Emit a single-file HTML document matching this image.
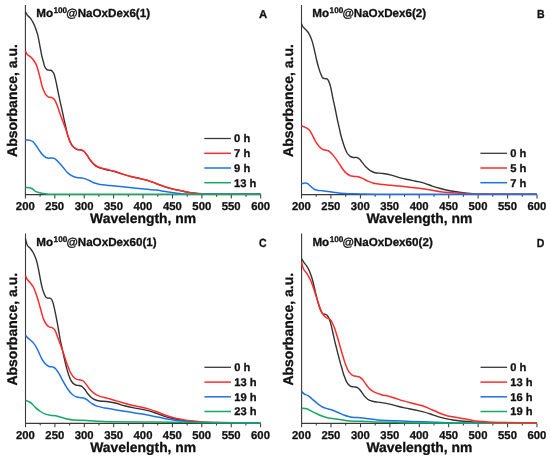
<!DOCTYPE html>
<html lang="en"><head><meta charset="utf-8"><title>UV-vis absorbance spectra</title>
<style>html,body{margin:0;padding:0;background:#fff}body{width:550px;height:460px;overflow:hidden}svg{display:block}</style>
</head><body>
<svg width="550" height="460" viewBox="0 0 550 460">
<rect width="550" height="460" fill="#fff"/>
<g font-family="'Liberation Sans', Arial, sans-serif" font-weight="bold" fill="#111" text-rendering="geometricPrecision" stroke="#111" stroke-width="0.3" stroke-linejoin="round">
<path d="M25.4 5.0V194.6H260.7" fill="none" stroke="#3a3a3a" stroke-width="1.1"/>
<path d="M25.4 194.6v3.9M40.1 194.6v2.2M54.8 194.6v3.9M69.5 194.6v2.2M84.2 194.6v3.9M98.9 194.6v2.2M113.6 194.6v3.9M128.3 194.6v2.2M143.0 194.6v3.9M157.8 194.6v2.2M172.5 194.6v3.9M187.2 194.6v2.2M201.9 194.6v3.9M216.6 194.6v2.2M231.3 194.6v3.9M246.0 194.6v2.2M260.7 194.6v3.9" fill="none" stroke="#3a3a3a" stroke-width="1.05"/>
<path d="M25.4 11.8C25.7 12.4 26.4 14.0 27.3 15.2C28.2 16.4 29.7 17.1 30.9 18.8C32.1 20.5 33.4 22.8 34.5 25.4C35.6 27.9 36.6 31.0 37.5 34.1C38.4 37.2 38.9 40.7 39.6 44.3C40.3 47.9 41.2 53.0 41.8 55.9C42.4 58.8 42.8 59.7 43.3 61.5C43.8 63.3 44.1 65.2 44.7 66.5C45.3 67.8 46.0 69.0 46.9 69.6C47.8 70.2 48.9 70.0 49.8 70.2C50.6 70.4 51.3 70.2 52.0 70.9C52.7 71.6 53.5 72.4 54.2 74.5C54.9 76.6 55.5 79.4 56.4 83.3C57.2 87.2 58.3 93.2 59.3 97.8C60.3 102.4 61.2 106.5 62.2 110.9C63.2 115.4 64.2 120.3 65.2 124.5C66.2 128.7 67.0 133.1 68.0 136.3C69.0 139.5 69.9 141.7 70.9 143.6C71.9 145.5 72.7 146.6 73.8 147.6C74.9 148.6 76.3 149.3 77.5 149.7C78.7 150.1 80.0 149.7 81.1 150.0C82.2 150.3 83.0 150.7 84.0 151.5C85.0 152.3 85.9 153.8 86.9 155.1C87.9 156.4 88.6 158.0 89.8 159.6C91.0 161.2 92.7 163.5 94.2 164.8C95.7 166.2 97.0 166.9 99.0 167.7C101.0 168.5 103.8 169.1 106.4 169.7C109.0 170.3 111.8 170.8 114.5 171.5C117.2 172.2 120.0 173.3 122.7 174.2C125.4 175.0 128.2 175.9 130.9 176.6C133.6 177.3 136.4 177.8 139.1 178.4C141.8 179.0 144.6 179.6 147.3 180.4C150.0 181.2 152.8 182.3 155.5 183.3C158.2 184.3 160.9 185.5 163.6 186.4C166.3 187.3 169.1 188.2 171.8 188.9C174.5 189.6 177.1 190.0 180.0 190.6C182.9 191.2 186.0 192.0 189.1 192.5C192.2 193.0 195.4 193.3 198.6 193.6C201.8 193.9 205.0 194.0 208.2 194.1C211.4 194.2 208.9 194.3 217.7 194.3C226.4 194.3 253.5 194.3 260.7 194.3" fill="none" stroke="#333333" stroke-width="1.4" stroke-linejoin="round" stroke-linecap="butt"/>
<path d="M25.4 50.8C25.7 51.4 26.4 53.5 27.3 54.5C28.2 55.5 29.8 56.1 30.9 57.1C32.0 58.1 32.8 59.0 33.8 60.5C34.8 62.0 35.7 63.2 36.7 65.8C37.7 68.4 38.6 72.4 39.6 76.0C40.6 79.6 41.5 84.6 42.5 87.6C43.5 90.6 44.5 92.6 45.5 94.2C46.5 95.8 47.4 96.5 48.4 97.1C49.4 97.6 50.3 97.1 51.3 97.5C52.3 97.9 53.2 98.0 54.2 99.3C55.2 100.6 56.1 102.7 57.1 105.1C58.1 107.5 59.0 111.1 60.0 113.8C61.0 116.5 62.0 119.2 62.9 121.5C63.8 123.8 64.2 124.9 65.1 127.3C65.9 129.7 67.0 133.3 68.0 136.0C69.0 138.7 69.9 141.4 70.9 143.3C71.9 145.2 72.7 146.3 73.8 147.3C74.9 148.3 76.3 149.0 77.5 149.4C78.7 149.8 80.0 149.5 81.1 149.8C82.2 150.1 83.0 150.5 84.0 151.3C85.0 152.2 85.9 153.6 86.9 154.9C87.9 156.2 88.6 157.6 89.8 159.2C91.0 160.8 92.7 163.1 94.2 164.4C95.7 165.7 97.0 166.4 99.0 167.2C101.0 168.0 103.8 168.6 106.4 169.3C109.0 170.0 111.8 170.5 114.5 171.3C117.2 172.1 120.0 173.2 122.7 174.1C125.4 175.0 128.2 175.8 130.9 176.5C133.6 177.2 136.4 177.7 139.1 178.3C141.8 178.9 144.6 179.5 147.3 180.3C150.0 181.1 152.8 182.2 155.5 183.2C158.2 184.2 160.9 185.4 163.6 186.3C166.3 187.2 169.1 188.1 171.8 188.8C174.5 189.5 177.1 189.9 180.0 190.5C182.9 191.1 186.0 192.0 189.1 192.5C192.2 193.0 195.4 193.3 198.6 193.6C201.8 193.9 205.0 194.0 208.2 194.1C211.4 194.2 208.9 194.3 217.7 194.3C226.4 194.3 253.5 194.3 260.7 194.3" fill="none" stroke="#ff2a2a" stroke-width="1.5" stroke-linejoin="round" stroke-linecap="butt"/>
<path d="M25.4 139.6C26.2 139.7 28.9 140.0 30.2 140.4C31.5 140.8 32.1 141.0 33.1 141.8C34.1 142.7 34.8 143.8 36.0 145.5C37.2 147.2 39.1 150.2 40.4 152.0C41.7 153.8 42.8 155.1 44.0 156.1C45.2 157.1 46.1 157.8 47.6 158.1C49.1 158.4 51.4 157.9 52.7 158.1C54.0 158.3 54.5 158.5 55.6 159.3C56.7 160.1 58.0 161.5 59.3 162.9C60.6 164.3 62.1 166.3 63.6 168.0C65.0 169.7 66.5 171.8 68.0 173.1C69.5 174.4 71.0 175.3 72.4 176.0C73.9 176.7 75.1 177.2 76.7 177.5C78.3 177.8 80.3 177.7 81.8 177.9C83.3 178.1 84.2 178.4 85.5 178.9C86.8 179.4 88.3 180.1 89.8 180.8C91.3 181.5 92.8 182.4 94.5 183.0C96.2 183.6 97.3 184.0 99.8 184.4C102.3 184.8 105.8 185.1 109.6 185.5C113.4 185.9 117.8 186.3 122.7 186.8C127.6 187.3 133.6 187.9 139.1 188.5C144.6 189.1 151.4 189.7 155.5 190.1C159.6 190.5 160.9 190.8 163.6 191.2C166.3 191.6 169.2 192.1 171.8 192.5C174.5 192.9 176.6 193.3 179.5 193.6C182.4 193.9 179.5 194.1 189.0 194.2C202.5 194.3 248.8 194.3 260.7 194.3" fill="none" stroke="#1f72e6" stroke-width="1.5" stroke-linejoin="round" stroke-linecap="butt"/>
<path d="M25.5 187.5C26.2 187.6 28.3 187.6 29.5 187.8C30.7 188.1 31.5 188.4 32.5 189.0C33.5 189.6 34.2 190.7 35.4 191.3C36.6 191.9 38.0 192.4 39.7 192.8C41.4 193.2 43.3 193.6 45.5 193.8C47.7 194.0 45.5 194.1 52.8 194.2C88.7 194.3 226.1 194.3 260.7 194.3" fill="none" stroke="#14a862" stroke-width="1.5" stroke-linejoin="round" stroke-linecap="butt"/>
<text x="25.3" y="209.8" font-size="11.3" text-anchor="middle">200</text>
<text x="54.7" y="209.8" font-size="11.3" text-anchor="middle">250</text>
<text x="84.1" y="209.8" font-size="11.3" text-anchor="middle">300</text>
<text x="113.5" y="209.8" font-size="11.3" text-anchor="middle">350</text>
<text x="142.9" y="209.8" font-size="11.3" text-anchor="middle">400</text>
<text x="172.4" y="209.8" font-size="11.3" text-anchor="middle">450</text>
<text x="201.8" y="209.8" font-size="11.3" text-anchor="middle">500</text>
<text x="231.2" y="209.8" font-size="11.3" text-anchor="middle">550</text>
<text x="260.6" y="209.8" font-size="11.3" text-anchor="middle">600</text>
<text x="143.1" y="223.0" font-size="13.9" text-anchor="middle">Wavelength, nm</text>
<text transform="translate(16.5 100.5) rotate(-90)" font-size="14.0" text-anchor="middle">Absorbance, a.u.</text>
<text x="36.2" y="17.1" font-size="11.65">Mo<tspan font-size="8.2" dx="0.5" dy="-4">100</tspan><tspan dx="-0.9" dy="4">@NaOxDex6(1)</tspan></text>
<text x="259.0" y="17.7" font-size="11.3">A</text>
<path d="M204.3 138.5H230.9" stroke="#3a3a3a" stroke-width="1.3"/>
<text x="234.1" y="142.4" font-size="11.15">0 h</text>
<path d="M204.3 153.3H230.9" stroke="#ff2d2d" stroke-width="1.5"/>
<text x="234.1" y="157.2" font-size="11.15">7 h</text>
<path d="M204.3 168.0H230.9" stroke="#1f72e6" stroke-width="1.5"/>
<text x="234.1" y="171.9" font-size="11.15">9 h</text>
<path d="M204.3 182.7H230.9" stroke="#14a862" stroke-width="1.5"/>
<text x="234.1" y="186.6" font-size="11.15">13 h</text>
<path d="M301.5 5.0V194.6H537.0" fill="none" stroke="#3a3a3a" stroke-width="1.1"/>
<path d="M301.5 194.6v3.9M316.2 194.6v2.2M330.9 194.6v3.9M345.7 194.6v2.2M360.4 194.6v3.9M375.1 194.6v2.2M389.8 194.6v3.9M404.5 194.6v2.2M419.2 194.6v3.9M434.0 194.6v2.2M448.7 194.6v3.9M463.4 194.6v2.2M478.1 194.6v3.9M492.8 194.6v2.2M507.6 194.6v3.9M522.3 194.6v2.2M537.0 194.6v3.9" fill="none" stroke="#3a3a3a" stroke-width="1.05"/>
<path d="M301.5 23.9C301.8 24.4 302.3 25.8 303.0 26.8C303.7 27.8 304.9 28.6 305.9 29.7C306.9 30.8 307.8 31.4 308.8 33.4C309.9 35.4 311.3 38.6 312.2 41.4C313.1 44.2 313.7 47.0 314.4 50.1C315.1 53.2 315.9 57.0 316.6 60.0C317.3 63.0 318.0 65.5 318.7 67.8C319.4 70.1 320.0 72.1 320.7 73.8C321.4 75.5 321.9 76.9 322.6 77.7C323.3 78.5 324.1 78.4 324.8 78.6C325.5 78.8 326.4 78.5 327.0 78.9C327.6 79.3 328.1 79.8 328.7 81.1C329.3 82.4 329.9 84.1 330.6 86.9C331.3 89.7 332.1 94.3 332.8 97.8C333.5 101.3 334.3 104.5 335.0 108.0C335.7 111.5 336.5 115.3 337.2 118.8C337.9 122.2 338.7 125.6 339.4 128.7C340.1 131.8 340.6 134.5 341.5 137.5C342.4 140.5 343.5 144.2 344.5 146.9C345.5 149.6 346.4 151.9 347.4 153.5C348.4 155.1 349.3 155.7 350.3 156.4C351.3 157.1 352.1 157.3 353.2 157.5C354.3 157.7 355.7 157.2 356.8 157.5C357.9 157.8 358.7 158.4 359.7 159.3C360.7 160.2 361.5 161.6 362.6 162.9C363.7 164.2 365.0 166.0 366.3 167.3C367.6 168.6 369.2 170.0 370.6 170.9C372.1 171.8 372.9 172.3 375.0 172.7C377.1 173.1 380.5 173.1 383.2 173.5C385.9 173.9 388.7 174.4 391.4 175.1C394.1 175.8 396.8 176.9 399.5 177.6C402.2 178.3 405.0 178.9 407.7 179.5C410.4 180.1 413.2 180.6 415.9 181.2C418.6 181.8 421.4 182.3 424.1 183.1C426.8 183.9 429.6 185.2 432.3 186.1C435.0 187.0 437.8 187.8 440.5 188.5C443.2 189.2 445.9 189.9 448.6 190.5C451.3 191.1 454.1 191.4 456.8 191.8C459.5 192.2 462.4 192.7 465.0 193.0C467.6 193.3 469.6 193.6 472.3 193.8C475.0 194.0 472.3 194.1 481.0 194.2C491.8 194.3 527.7 194.3 537.0 194.3" fill="none" stroke="#333333" stroke-width="1.4" stroke-linejoin="round" stroke-linecap="butt"/>
<path d="M301.5 126.1C302.1 126.3 304.0 126.7 305.2 127.3C306.4 127.9 307.7 128.4 308.8 129.5C309.9 130.6 310.6 131.9 311.7 133.8C312.8 135.7 314.2 139.0 315.4 141.1C316.6 143.2 317.8 144.8 319.0 146.2C320.2 147.6 321.4 148.7 322.6 149.4C323.8 150.1 325.2 150.0 326.3 150.3C327.4 150.6 328.1 150.5 329.2 151.3C330.3 152.1 331.5 153.3 332.8 154.9C334.1 156.5 335.8 158.6 337.2 160.7C338.6 162.8 340.1 165.3 341.5 167.3C342.9 169.3 344.4 171.5 345.9 172.9C347.4 174.3 348.9 175.2 350.3 175.8C351.8 176.4 353.2 176.2 354.6 176.4C356.1 176.6 357.5 176.6 359.0 177.0C360.5 177.4 361.9 178.2 363.4 178.9C364.8 179.6 366.3 180.5 367.7 181.1C369.1 181.7 370.7 182.2 371.9 182.6C373.1 183.0 373.1 183.3 375.0 183.6C376.9 183.9 380.5 184.2 383.2 184.5C385.9 184.8 388.7 185.0 391.4 185.3C394.1 185.6 396.8 185.8 399.5 186.1C402.2 186.4 405.0 186.8 407.7 187.1C410.4 187.4 413.2 187.6 415.9 187.9C418.6 188.2 421.4 188.5 424.1 188.9C426.8 189.3 429.6 189.7 432.3 190.2C435.0 190.7 437.8 191.3 440.5 191.7C443.2 192.1 445.9 192.4 448.6 192.6C451.3 192.8 454.1 192.9 456.8 193.1C459.5 193.3 461.0 193.4 465.0 193.6C469.0 193.8 469.0 194.0 481.0 194.1C493.0 194.2 527.7 194.3 537.0 194.3" fill="none" stroke="#ff2a2a" stroke-width="1.5" stroke-linejoin="round" stroke-linecap="butt"/>
<path d="M301.5 183.7C302.1 183.6 303.8 182.9 304.8 182.9C305.8 182.9 306.4 182.9 307.3 183.4C308.2 183.9 309.4 185.3 310.5 186.2C311.6 187.1 312.7 188.3 313.8 189.0C314.9 189.7 315.6 190.0 317.1 190.3C318.6 190.6 321.0 190.6 322.8 190.8C324.6 191.0 325.8 191.1 327.7 191.4C329.6 191.7 332.1 192.1 334.3 192.4C336.5 192.7 338.4 193.0 340.8 193.2C343.2 193.4 345.7 193.6 349.0 193.7C352.3 193.8 354.5 193.8 360.5 193.9C366.5 194.0 360.5 194.1 385.0 194.2C414.4 194.3 511.7 194.3 537.0 194.3" fill="none" stroke="#1f72e6" stroke-width="1.5" stroke-linejoin="round" stroke-linecap="butt"/>
<text x="301.4" y="209.8" font-size="11.3" text-anchor="middle">200</text>
<text x="330.8" y="209.8" font-size="11.3" text-anchor="middle">250</text>
<text x="360.3" y="209.8" font-size="11.3" text-anchor="middle">300</text>
<text x="389.7" y="209.8" font-size="11.3" text-anchor="middle">350</text>
<text x="419.1" y="209.8" font-size="11.3" text-anchor="middle">400</text>
<text x="448.6" y="209.8" font-size="11.3" text-anchor="middle">450</text>
<text x="478.0" y="209.8" font-size="11.3" text-anchor="middle">500</text>
<text x="507.5" y="209.8" font-size="11.3" text-anchor="middle">550</text>
<text x="536.9" y="209.8" font-size="11.3" text-anchor="middle">600</text>
<text x="419.4" y="223.0" font-size="13.9" text-anchor="middle">Wavelength, nm</text>
<text transform="translate(292.6 100.5) rotate(-90)" font-size="14.0" text-anchor="middle">Absorbance, a.u.</text>
<text x="312.3" y="17.1" font-size="11.65">Mo<tspan font-size="8.2" dx="0.5" dy="-4">100</tspan><tspan dx="-0.9" dy="4">@NaOxDex6(2)</tspan></text>
<text x="536.9" y="17.9" font-size="11.8" textLength="7.6" lengthAdjust="spacingAndGlyphs">B</text>
<path d="M480.4 153.3H507.0" stroke="#3a3a3a" stroke-width="1.3"/>
<text x="510.2" y="157.2" font-size="11.15">0 h</text>
<path d="M480.4 168.0H507.0" stroke="#ff2d2d" stroke-width="1.5"/>
<text x="510.2" y="171.9" font-size="11.15">5 h</text>
<path d="M480.4 182.7H507.0" stroke="#1f72e6" stroke-width="1.5"/>
<text x="510.2" y="186.6" font-size="11.15">7 h</text>
<path d="M25.5 233.6V423.4H260.6" fill="none" stroke="#3a3a3a" stroke-width="1.1"/>
<path d="M25.5 423.4v3.9M40.2 423.4v2.2M54.9 423.4v3.9M69.6 423.4v2.2M84.3 423.4v3.9M99.0 423.4v2.2M113.7 423.4v3.9M128.4 423.4v2.2M143.1 423.4v3.9M157.7 423.4v2.2M172.4 423.4v3.9M187.1 423.4v2.2M201.8 423.4v3.9M216.5 423.4v2.2M231.2 423.4v3.9M245.9 423.4v2.2M260.6 423.4v3.9" fill="none" stroke="#3a3a3a" stroke-width="1.05"/>
<path d="M25.5 238.7C25.8 239.8 26.5 243.7 27.3 245.3C28.1 246.9 29.2 247.0 30.2 248.2C31.2 249.4 32.1 250.7 33.1 252.5C34.1 254.3 35.1 256.6 36.0 259.1C36.9 261.7 37.5 264.4 38.2 267.8C38.9 271.2 39.8 276.3 40.4 279.5C41.0 282.7 41.5 285.0 42.0 287.0C42.5 289.0 42.7 289.9 43.3 291.5C43.9 293.1 44.8 295.5 45.5 296.6C46.2 297.7 46.9 297.9 47.6 298.1C48.3 298.4 49.1 297.9 49.8 298.1C50.5 298.3 51.1 298.4 51.7 299.5C52.3 300.6 52.9 302.2 53.5 304.6C54.1 307.0 54.9 310.6 55.6 314.1C56.3 317.6 57.1 321.6 57.8 325.7C58.5 329.8 59.3 334.6 60.0 338.5C60.7 342.4 61.5 345.4 62.2 348.8C62.9 352.2 63.7 355.8 64.4 358.9C65.1 362.0 65.8 364.9 66.5 367.6C67.2 370.3 67.9 372.6 68.7 374.9C69.5 377.2 70.5 379.9 71.6 381.5C72.7 383.1 74.1 384.1 75.3 384.8C76.5 385.5 77.8 385.2 78.9 385.5C80.0 385.8 80.8 385.7 81.8 386.3C82.8 386.9 83.7 388.1 84.7 389.3C85.7 390.5 86.5 392.1 87.6 393.5C88.7 394.9 90.0 396.4 91.3 397.5C92.6 398.6 94.1 399.4 95.6 400.0C97.0 400.6 97.9 400.7 100.0 401.0C102.1 401.3 105.5 401.3 108.2 401.7C110.9 402.1 113.7 402.6 116.4 403.3C119.1 404.0 121.8 405.1 124.5 405.8C127.2 406.5 130.0 407.1 132.7 407.6C135.4 408.2 138.2 408.6 140.9 409.1C143.6 409.7 146.4 410.1 149.1 410.9C151.8 411.6 154.6 412.7 157.3 413.6C160.0 414.6 162.8 415.8 165.5 416.6C168.2 417.5 170.9 418.1 173.6 418.7C176.3 419.3 179.1 419.8 181.8 420.2C184.5 420.6 187.0 421.0 190.0 421.3C193.0 421.6 195.8 421.9 200.0 422.2C204.2 422.4 204.9 422.7 215.0 422.8C225.1 422.9 252.9 423.0 260.5 423.0" fill="none" stroke="#333333" stroke-width="1.4" stroke-linejoin="round" stroke-linecap="butt"/>
<path d="M25.5 275.4C25.8 276.1 26.5 278.3 27.3 279.5C28.1 280.7 29.2 281.5 30.2 282.7C31.2 283.9 32.2 285.2 33.1 286.7C34.0 288.2 34.6 289.9 35.3 291.8C36.0 293.7 36.6 295.4 37.5 298.1C38.4 300.9 39.4 304.9 40.4 308.3C41.4 311.7 42.3 315.8 43.3 318.5C44.3 321.2 45.2 322.9 46.2 324.3C47.2 325.7 48.1 326.3 49.1 326.9C50.1 327.4 51.0 327.1 52.0 327.6C53.0 328.1 53.9 328.5 54.9 330.1C55.9 331.7 56.8 334.8 57.8 337.4C58.8 340.0 59.9 343.1 60.7 345.5C61.6 347.9 62.3 349.8 62.9 351.5C63.5 353.2 63.7 353.8 64.4 356.0C65.1 358.2 66.3 362.0 67.3 364.7C68.3 367.4 69.2 370.1 70.2 372.0C71.2 373.9 72.0 375.2 73.1 376.4C74.2 377.6 75.5 378.7 76.7 379.3C77.9 379.9 79.3 379.7 80.4 380.0C81.5 380.3 82.3 380.3 83.3 381.0C84.3 381.7 85.1 383.0 86.2 384.4C87.3 385.8 88.5 387.8 89.8 389.3C91.1 390.8 92.5 392.1 94.2 393.3C95.9 394.5 97.7 395.5 100.0 396.4C102.3 397.2 105.5 397.6 108.2 398.4C110.9 399.1 113.7 400.1 116.4 400.9C119.1 401.7 121.8 402.5 124.5 403.3C127.2 404.1 130.0 404.9 132.7 405.5C135.4 406.1 138.2 406.5 140.9 407.1C143.6 407.7 146.4 408.3 149.1 409.1C151.8 409.9 154.6 411.0 157.3 412.0C160.0 413.0 162.8 414.4 165.5 415.3C168.2 416.2 170.9 417.0 173.6 417.7C176.3 418.4 179.1 418.9 181.8 419.4C184.5 419.9 187.0 420.3 190.0 420.7C193.0 421.1 195.8 421.5 200.0 421.8C204.2 422.1 204.9 422.4 215.0 422.6C225.1 422.8 252.9 422.9 260.5 423.0" fill="none" stroke="#ff2a2a" stroke-width="1.5" stroke-linejoin="round" stroke-linecap="butt"/>
<path d="M25.5 335.2C25.8 335.6 26.5 336.6 27.3 337.4C28.1 338.2 29.4 339.2 30.5 340.2C31.6 341.2 32.6 341.8 33.8 343.4C35.0 344.9 36.2 346.9 37.5 349.5C38.8 352.1 40.5 356.5 41.8 358.9C43.1 361.3 44.3 362.7 45.5 364.0C46.7 365.3 47.9 366.0 49.1 366.5C50.3 367.0 51.6 366.5 52.7 366.9C53.8 367.3 54.5 367.5 55.6 368.7C56.7 369.9 58.0 371.9 59.3 374.2C60.6 376.4 62.1 379.6 63.6 382.2C65.0 384.8 66.5 387.4 68.0 389.5C69.5 391.6 71.0 393.2 72.4 394.5C73.9 395.8 75.2 396.5 76.7 397.0C78.2 397.5 79.8 397.4 81.1 397.7C82.4 397.9 83.5 398.0 84.7 398.5C85.9 399.0 86.7 399.7 88.0 400.6C89.3 401.5 90.8 403.0 92.3 403.9C93.8 404.8 95.0 405.5 96.9 406.1C98.8 406.7 101.3 407.2 103.5 407.7C105.7 408.1 107.8 408.4 110.0 408.8C112.2 409.2 114.0 409.5 116.4 409.9C118.8 410.3 121.8 410.8 124.5 411.2C127.2 411.6 130.0 412.1 132.7 412.5C135.4 412.9 138.2 413.3 140.9 413.8C143.6 414.3 146.4 414.8 149.1 415.3C151.8 415.9 154.6 416.5 157.3 417.1C160.0 417.7 162.8 418.2 165.5 418.7C168.2 419.2 170.9 419.6 173.6 420.0C176.3 420.4 179.1 420.7 181.8 421.0C184.5 421.3 186.1 421.5 190.0 421.8C193.9 422.1 193.2 422.4 205.0 422.6C216.8 422.8 251.2 422.9 260.5 423.0" fill="none" stroke="#1f72e6" stroke-width="1.5" stroke-linejoin="round" stroke-linecap="butt"/>
<path d="M25.4 400.3C25.9 400.5 27.2 400.9 28.2 401.4C29.2 401.9 30.3 402.3 31.5 403.3C32.7 404.3 34.0 406.2 35.5 407.6C37.0 409.0 38.9 410.4 40.5 411.5C42.1 412.6 43.8 413.5 45.4 414.1C47.0 414.7 48.7 415.0 50.3 415.3C51.9 415.6 53.4 415.5 55.2 415.8C57.0 416.1 58.9 416.7 60.9 417.2C62.9 417.7 65.3 418.5 67.5 419.0C69.7 419.5 71.5 419.8 74.0 420.0C76.5 420.2 79.8 420.1 82.2 420.2C84.7 420.3 86.2 420.5 88.7 420.7C91.2 420.9 93.4 421.1 96.9 421.3C100.5 421.5 101.2 421.6 110.0 421.7C118.8 421.8 135.0 421.9 150.0 422.0C165.0 422.1 181.6 422.4 200.0 422.6C218.4 422.8 250.4 422.9 260.5 423.0" fill="none" stroke="#14a862" stroke-width="1.5" stroke-linejoin="round" stroke-linecap="butt"/>
<text x="25.4" y="438.6" font-size="11.3" text-anchor="middle">200</text>
<text x="54.8" y="438.6" font-size="11.3" text-anchor="middle">250</text>
<text x="84.2" y="438.6" font-size="11.3" text-anchor="middle">300</text>
<text x="113.6" y="438.6" font-size="11.3" text-anchor="middle">350</text>
<text x="143.0" y="438.6" font-size="11.3" text-anchor="middle">400</text>
<text x="172.3" y="438.6" font-size="11.3" text-anchor="middle">450</text>
<text x="201.7" y="438.6" font-size="11.3" text-anchor="middle">500</text>
<text x="231.1" y="438.6" font-size="11.3" text-anchor="middle">550</text>
<text x="260.5" y="438.6" font-size="11.3" text-anchor="middle">600</text>
<text x="143.2" y="451.8" font-size="13.9" text-anchor="middle">Wavelength, nm</text>
<text transform="translate(16.6 329.2) rotate(-90)" font-size="14.0" text-anchor="middle">Absorbance, a.u.</text>
<text x="36.3" y="245.9" font-size="11.65">Mo<tspan font-size="8.2" dx="0.5" dy="-4">100</tspan><tspan dx="-0.9" dy="4">@NaOxDex60(1)</tspan></text>
<text x="258.9" y="246.7" font-size="11.8" textLength="7.6" lengthAdjust="spacingAndGlyphs">C</text>
<path d="M204.4 367.3H231.0" stroke="#3a3a3a" stroke-width="1.3"/>
<text x="234.2" y="371.2" font-size="11.15">0 h</text>
<path d="M204.4 382.1H231.0" stroke="#ff2d2d" stroke-width="1.5"/>
<text x="234.2" y="386.0" font-size="11.15">13 h</text>
<path d="M204.4 396.8H231.0" stroke="#1f72e6" stroke-width="1.5"/>
<text x="234.2" y="400.7" font-size="11.15">19 h</text>
<path d="M204.4 411.5H231.0" stroke="#14a862" stroke-width="1.5"/>
<text x="234.2" y="415.4" font-size="11.15">23 h</text>
<path d="M301.6 233.6V423.4H537.0" fill="none" stroke="#3a3a3a" stroke-width="1.1"/>
<path d="M301.6 423.4v3.9M316.3 423.4v2.2M331.0 423.4v3.9M345.7 423.4v2.2M360.5 423.4v3.9M375.2 423.4v2.2M389.9 423.4v3.9M404.6 423.4v2.2M419.3 423.4v3.9M434.0 423.4v2.2M448.7 423.4v3.9M463.4 423.4v2.2M478.1 423.4v3.9M492.9 423.4v2.2M507.6 423.4v3.9M522.3 423.4v2.2M537.0 423.4v3.9" fill="none" stroke="#3a3a3a" stroke-width="1.05"/>
<path d="M301.7 258.7C302.0 259.3 302.9 261.0 303.7 262.2C304.5 263.4 305.6 264.4 306.6 265.9C307.6 267.4 308.6 269.0 309.5 271.2C310.4 273.4 311.4 276.1 312.3 279.2C313.2 282.3 314.0 286.1 314.9 289.8C315.8 293.5 316.9 298.4 317.8 301.6C318.7 304.8 319.2 306.8 320.0 308.8C320.8 310.8 321.6 312.6 322.4 313.5C323.2 314.4 324.0 313.9 324.8 314.2C325.6 314.5 326.3 314.4 327.0 315.2C327.7 316.0 328.5 317.0 329.2 318.8C329.9 320.6 330.7 323.3 331.4 326.1C332.1 328.9 332.8 332.4 333.5 335.5C334.2 338.6 334.8 341.5 335.7 345.0C336.6 348.5 337.6 352.8 338.6 356.5C339.6 360.2 340.6 364.0 341.5 367.0C342.4 370.0 342.8 372.0 343.7 374.5C344.6 377.0 345.5 379.9 346.6 381.8C347.7 383.8 349.1 385.4 350.3 386.2C351.5 387.0 352.7 386.7 353.9 386.9C355.1 387.1 356.4 387.0 357.5 387.6C358.6 388.2 359.4 389.2 360.5 390.5C361.6 391.8 362.9 394.1 364.1 395.6C365.3 397.1 366.5 398.4 367.7 399.3C368.9 400.2 370.2 400.6 371.4 401.0C372.6 401.4 373.3 401.5 375.0 401.8C376.7 402.1 379.1 402.2 381.5 402.6C383.9 403.0 386.9 403.5 389.6 404.1C392.3 404.7 395.1 405.5 397.8 406.2C400.5 406.9 403.3 407.5 406.0 408.1C408.7 408.7 411.5 409.2 414.2 409.8C416.9 410.4 419.7 410.9 422.4 411.6C425.1 412.3 427.8 413.1 430.5 414.0C433.2 414.9 436.0 416.0 438.7 416.8C441.4 417.6 444.2 418.3 446.9 418.9C449.6 419.5 452.3 419.8 455.1 420.2C457.9 420.6 460.8 420.9 463.7 421.2C466.6 421.5 469.5 421.7 472.4 421.9C475.3 422.1 472.4 422.2 481.0 422.4C491.8 422.6 527.7 423.1 537.0 423.2" fill="none" stroke="#333333" stroke-width="1.4" stroke-linejoin="round" stroke-linecap="butt"/>
<path d="M301.7 391.7C302.2 392.1 303.4 393.5 304.5 394.2C305.6 394.9 306.8 394.8 308.1 395.6C309.4 396.5 310.9 398.0 312.5 399.3C314.1 400.6 315.8 402.3 317.5 403.6C319.2 404.9 320.9 406.1 322.6 407.0C324.3 407.9 326.0 408.2 327.7 408.7C329.4 409.2 331.0 409.5 332.8 410.2C334.6 410.9 336.7 411.8 338.6 412.7C340.6 413.6 342.7 414.6 344.5 415.3C346.3 416.0 347.8 416.3 349.5 416.7C351.2 417.1 352.8 417.3 354.6 417.5C356.4 417.7 358.6 417.5 360.5 417.7C362.4 417.9 363.9 418.2 366.3 418.5C368.7 418.8 371.6 419.3 375.0 419.6C378.4 419.9 380.4 420.1 386.4 420.4C392.4 420.7 402.7 421.1 410.9 421.4C419.1 421.7 427.3 421.9 435.5 422.2C443.7 422.4 443.1 422.7 460.0 422.9C476.9 423.1 524.2 423.1 537.0 423.2" fill="none" stroke="#1f72e6" stroke-width="1.5" stroke-linejoin="round" stroke-linecap="butt"/>
<path d="M301.7 408.3C302.5 408.4 305.1 408.3 306.6 408.7C308.2 409.1 309.3 410.0 311.0 410.9C312.7 411.8 314.9 412.9 316.8 413.8C318.7 414.7 320.7 415.6 322.6 416.3C324.6 417.0 326.3 417.5 328.5 417.9C330.7 418.3 333.3 418.5 335.7 418.9C338.1 419.3 340.6 419.7 343.0 420.1C345.4 420.5 347.9 420.9 350.3 421.1C352.7 421.3 355.1 421.1 357.5 421.2C359.9 421.2 361.9 421.3 364.8 421.4C367.7 421.5 370.0 421.8 375.0 421.9C380.0 422.0 387.5 422.1 395.0 422.3C402.5 422.5 396.3 422.7 420.0 422.9C443.7 423.1 517.5 423.2 537.0 423.3" fill="none" stroke="#14a862" stroke-width="1.5" stroke-linejoin="round" stroke-linecap="butt"/>
<path d="M301.7 262.4C301.9 263.1 302.1 265.3 302.6 266.7C303.1 268.1 303.6 269.2 304.5 270.6C305.4 272.0 306.7 273.0 307.8 274.8C308.9 276.6 309.9 278.7 311.0 281.3C312.1 283.9 313.2 287.1 314.3 290.4C315.4 293.6 316.5 297.5 317.6 300.8C318.7 304.1 320.0 308.1 320.9 310.3C321.8 312.5 322.3 313.0 322.9 314.0C323.5 315.0 324.0 315.7 324.6 316.3C325.2 316.9 325.8 317.4 326.6 317.8C327.4 318.2 328.4 318.3 329.2 318.8C330.0 319.3 330.5 319.6 331.4 321.0C332.2 322.4 333.3 324.9 334.3 327.5C335.3 330.1 336.2 333.1 337.2 336.3C338.2 339.5 339.1 343.1 340.1 346.5C341.1 349.9 342.0 353.3 343.0 356.5C344.0 359.7 344.9 363.0 345.9 365.5C346.9 368.0 347.7 370.0 348.8 371.6C349.9 373.2 351.3 374.5 352.5 375.3C353.7 376.1 354.9 376.0 356.1 376.3C357.3 376.6 358.6 376.6 359.7 377.2C360.8 377.8 361.5 378.4 362.6 379.6C363.7 380.9 365.1 383.1 366.3 384.7C367.5 386.3 368.5 387.8 369.9 389.1C371.3 390.4 373.0 391.5 374.9 392.4C376.8 393.3 379.1 394.0 381.5 394.7C383.9 395.4 386.9 395.7 389.6 396.4C392.3 397.1 395.1 398.2 397.8 399.1C400.5 400.0 403.3 400.8 406.0 401.6C408.7 402.4 411.5 403.0 414.2 403.7C416.9 404.4 419.7 404.8 422.4 405.7C425.1 406.6 427.8 407.9 430.5 409.1C433.2 410.3 436.0 411.6 438.7 412.7C441.4 413.8 444.2 414.9 446.9 415.7C449.6 416.4 452.3 416.7 455.1 417.2C457.9 417.7 460.8 418.2 463.7 418.7C466.6 419.2 469.5 419.9 472.4 420.4C475.3 420.9 478.1 421.2 481.0 421.5C483.9 421.8 485.5 422.0 489.8 422.2C494.1 422.4 499.1 422.5 507.0 422.6C514.9 422.7 532.0 422.8 537.0 422.9" fill="none" stroke="#ff2a2a" stroke-width="1.5" stroke-linejoin="round" stroke-linecap="butt"/>
<text x="301.5" y="438.6" font-size="11.3" text-anchor="middle">200</text>
<text x="330.9" y="438.6" font-size="11.3" text-anchor="middle">250</text>
<text x="360.4" y="438.6" font-size="11.3" text-anchor="middle">300</text>
<text x="389.8" y="438.6" font-size="11.3" text-anchor="middle">350</text>
<text x="419.2" y="438.6" font-size="11.3" text-anchor="middle">400</text>
<text x="448.6" y="438.6" font-size="11.3" text-anchor="middle">450</text>
<text x="478.0" y="438.6" font-size="11.3" text-anchor="middle">500</text>
<text x="507.5" y="438.6" font-size="11.3" text-anchor="middle">550</text>
<text x="536.9" y="438.6" font-size="11.3" text-anchor="middle">600</text>
<text x="419.4" y="451.8" font-size="13.9" text-anchor="middle">Wavelength, nm</text>
<text transform="translate(292.7 329.2) rotate(-90)" font-size="14.0" text-anchor="middle">Absorbance, a.u.</text>
<text x="312.4" y="245.9" font-size="11.65">Mo<tspan font-size="8.2" dx="0.5" dy="-4">100</tspan><tspan dx="-0.9" dy="4">@NaOxDex60(2)</tspan></text>
<text x="536.7" y="246.7" font-size="11.8" textLength="7.6" lengthAdjust="spacingAndGlyphs">D</text>
<path d="M480.5 367.3H507.1" stroke="#3a3a3a" stroke-width="1.3"/>
<text x="510.3" y="371.2" font-size="11.15">0 h</text>
<path d="M480.5 382.1H507.1" stroke="#ff2d2d" stroke-width="1.5"/>
<text x="510.3" y="386.0" font-size="11.15">13 h</text>
<path d="M480.5 396.8H507.1" stroke="#1f72e6" stroke-width="1.5"/>
<text x="510.3" y="400.7" font-size="11.15">16 h</text>
<path d="M480.5 411.5H507.1" stroke="#14a862" stroke-width="1.5"/>
<text x="510.3" y="415.4" font-size="11.15">19 h</text>
</g></svg>
</body></html>
